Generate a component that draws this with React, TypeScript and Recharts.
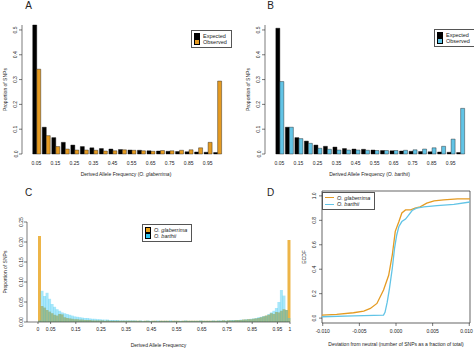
import React from 'react';
import { BarChart, Bar, LineChart, Line, XAxis, YAxis, Legend, Label, ReferenceArea } from 'recharts';

// panels A and B: binned derived allele frequency spectra
const freqBins = ['0.05', '0.10', '0.15', '0.20', '0.25', '0.30', '0.35', '0.40', '0.45', '0.50',
  '0.55', '0.60', '0.65', '0.70', '0.75', '0.80', '0.85', '0.90', '0.95', '1.00'];
const expectedGlab = [0.52, 0.108, 0.066, 0.047, 0.036, 0.030, 0.025, 0.022, 0.020, 0.018,
  0.016, 0.015, 0.013, 0.012, 0.011, 0.010, 0.009, 0.008, 0.007, 0.006];
const observedGlab = [0.342, 0.074, 0.030, 0.020, 0.016, 0.016, 0.015, 0.012, 0.013, 0.017,
  0.015, 0.013, 0.011, 0.014, 0.013, 0.015, 0.017, 0.025, 0.047, 0.294];
const expectedBarthii = [0.507, 0.108, 0.066, 0.052, 0.036, 0.031, 0.028, 0.022, 0.020, 0.019,
  0.016, 0.014, 0.013, 0.012, 0.011, 0.010, 0.009, 0.008, 0.007, 0.006];
const observedBarthii = [0.292, 0.108, 0.062, 0.043, 0.023, 0.019, 0.016, 0.016, 0.016, 0.015,
  0.014, 0.014, 0.014, 0.015, 0.017, 0.020, 0.025, 0.031, 0.060, 0.184];
const propTicks = [0, 0.1, 0.2, 0.3, 0.4, 0.5];

// panel C: fine histogram (bin centres)
const histBins = [
  0.005, 0.015, 0.025, 0.035, 0.045, 0.055, 0.065, 0.075, 0.085, 0.095,
  0.105, 0.115, 0.125, 0.135, 0.145, 0.155, 0.165, 0.175, 0.185, 0.195,
  0.205, 0.215, 0.225, 0.235, 0.245, 0.255, 0.265, 0.275, 0.285, 0.295,
  0.305, 0.315, 0.325, 0.335, 0.345, 0.355, 0.365, 0.375, 0.385, 0.395,
  0.405, 0.415, 0.425, 0.435, 0.445, 0.455, 0.465, 0.475, 0.485, 0.495,
  0.505, 0.515, 0.525, 0.535, 0.545, 0.555, 0.565, 0.575, 0.585, 0.595,
  0.605, 0.615, 0.625, 0.635, 0.645, 0.655, 0.665, 0.675, 0.685, 0.695,
  0.705, 0.715, 0.725, 0.735, 0.745, 0.755, 0.765, 0.775, 0.785, 0.795,
  0.805, 0.815, 0.825, 0.835, 0.845, 0.855, 0.865, 0.875, 0.885, 0.895,
  0.905, 0.915, 0.925, 0.935, 0.945, 0.955, 0.965, 0.975, 0.985, 0.995,
];
const histGlab = [
  0.215, 0.040, 0.036, 0.030, 0.026, 0.022, 0.018, 0.016, 0.020, 0.019,
  0.012, 0.010, 0.009, 0.008, 0.007, 0.007, 0.006, 0.006, 0.005, 0.005,
  0.005, 0.004, 0.004, 0.004, 0.004, 0.004, 0.003, 0.004, 0.003, 0.003,
  0.003, 0.003, 0.003, 0.003, 0.003, 0.003, 0.003, 0.003, 0.003, 0.003,
  0.003, 0.002, 0.003, 0.003, 0.002, 0.003, 0.003, 0.002, 0.003, 0.003,
  0.003, 0.003, 0.002, 0.003, 0.003, 0.003, 0.002, 0.003, 0.003, 0.003,
  0.003, 0.003, 0.003, 0.003, 0.003, 0.003, 0.003, 0.003, 0.003, 0.003,
  0.003, 0.003, 0.003, 0.004, 0.003, 0.004, 0.004, 0.004, 0.005, 0.005,
  0.005, 0.006, 0.006, 0.007, 0.007, 0.008, 0.009, 0.010, 0.012, 0.014,
  0.016, 0.018, 0.022, 0.020, 0.025, 0.024, 0.028, 0.032, 0.030, 0.205,
];
const histBarthii = [
  0.004, 0.078, 0.065, 0.073, 0.058, 0.045, 0.038, 0.032, 0.028, 0.024,
  0.022, 0.020, 0.018, 0.016, 0.014, 0.013, 0.012, 0.011, 0.010, 0.010,
  0.009, 0.008, 0.008, 0.007, 0.007, 0.006, 0.006, 0.006, 0.005, 0.005,
  0.005, 0.005, 0.004, 0.004, 0.004, 0.004, 0.004, 0.004, 0.004, 0.003,
  0.004, 0.003, 0.003, 0.004, 0.003, 0.003, 0.003, 0.004, 0.003, 0.003,
  0.003, 0.003, 0.004, 0.003, 0.003, 0.003, 0.003, 0.003, 0.004, 0.003,
  0.003, 0.003, 0.003, 0.003, 0.004, 0.003, 0.003, 0.003, 0.003, 0.004,
  0.003, 0.004, 0.004, 0.004, 0.004, 0.004, 0.005, 0.005, 0.005, 0.005,
  0.006, 0.006, 0.007, 0.007, 0.008, 0.009, 0.010, 0.012, 0.013, 0.015,
  0.016, 0.020, 0.024, 0.028, 0.035, 0.050, 0.080, 0.066, 0.030, 0.010,
];
const histXTicks = [0, 0.05, 0.15, 0.25, 0.35, 0.45, 0.55, 0.65, 0.75, 0.85, 0.95, 1];
const histYTicks = [0, 0.05, 0.1, 0.15, 0.2, 0.25];

// panel D: ECDF of deviation from neutral
const glabDev = [-0.0101, -0.0081, -0.0058, -0.0044, -0.0035, -0.0026, -0.0017, -0.0010, -0.0005, -0.0001,
  0.0004, 0.0008, 0.0013, 0.0020, 0.0026, 0.0033, 0.0042, 0.0052, 0.0065, 0.0084, 0.0101];
const glabEcdf = [0.025, 0.030, 0.044, 0.057, 0.079, 0.12, 0.23, 0.35, 0.52, 0.71,
  0.79, 0.86, 0.885, 0.885, 0.90, 0.91, 0.94, 0.96, 0.967, 0.975, 0.975];
const barthiiDev = [-0.0101, -0.0058, -0.0017, -0.0015, -0.0012, -0.0009, -0.0005, -0.0002, 0.0001, 0.0004,
  0.0008, 0.0013, 0.0017, 0.0022, 0.0028, 0.0038, 0.0056, 0.0079, 0.0101];
const barthiiEcdf = [0.011, 0.019, 0.025, 0.047, 0.13, 0.24, 0.41, 0.57, 0.68, 0.75,
  0.79, 0.81, 0.84, 0.88, 0.90, 0.91, 0.92, 0.93, 0.95];
const devTicks = [-0.01, -0.005, 0, 0.005, 0.01];
const ecdfTicks = [0, 0.2, 0.4, 0.6, 0.8, 1];
const speciesOrder = ['O. glaberrima', 'O. barthii'];

const glabData = freqBins.map((bin, i) => ({ bin, expected: expectedGlab[i], observed: observedGlab[i] }));
const barthiiData = freqBins.map((bin, i) => ({ bin, expected: expectedBarthii[i], observed: observedBarthii[i] }));
const histData = histBins.map((bin, i) => ({ bin, glab: histGlab[i], barthii: histBarthii[i] }));
const glabLine = glabDev.map((x, i) => ({ x, y: glabEcdf[i] }));
const barthiiLine = barthiiDev.map((x, i) => ({ x, y: barthiiEcdf[i] }));

const FONT = '"Liberation Sans", Arial, sans-serif';
const INK = '#222';
const ORANGE = '#E59B22';
const BLUE = '#62C4E6';
const axisStroke = { stroke: INK, strokeWidth: 0.6 };

type Part = { text: string; italic?: boolean };

const sideTick = (digits: number) => (p: any) => (
  <text x={p.x} y={p.y} transform={`rotate(-90 ${p.x} ${p.y})`} textAnchor="middle" fontSize={5} fill={INK}>
    {Number(p.payload.value).toFixed(digits)}
  </text>
);

// maxX keeps a label that sits on the chart's right edge inside the page
const bottomTick = (off: number, fmt: (v: any) => string, maxX = Infinity) => (p: any) => (
  <text x={Math.min(p.x, maxX)} y={p.y + off} textAnchor="middle" fontSize={5} fill={INK}>
    {fmt(p.payload.value)}
  </text>
);

const xTitle = (parts: Part[], dx: number, dy: number) => (p: any) => {
  const vb = p.viewBox || {};
  return (
    <text x={vb.x + vb.width / 2 + dx} y={vb.y + dy} textAnchor="middle" fontSize={5} fill={INK}>
      {parts.map((t, i) => (
        <tspan key={i} fontStyle={t.italic ? 'italic' : 'normal'}>{t.text}</tspan>
      ))}
    </text>
  );
};

const yTitle = (text: string, x: number) => (p: any) => {
  const vb = p.viewBox || {};
  const cy = vb.y + vb.height / 2;
  return (
    <text x={x} y={cy} transform={`rotate(-90 ${x} ${cy})`} textAnchor="middle" fontSize={5} fill={INK}>
      {text}
    </text>
  );
};

const boxLegend = (kind: 'box' | 'line', italic: boolean, order?: string[]) => (p: any) => {
  const items = [...(p.payload || [])];
  if (order) items.sort((a: any, b: any) => order.indexOf(a.value) - order.indexOf(b.value));
  return (
    <div style={{
      border: '0.8px solid #555', background: '#fff', padding: '1.5px 4px 1.5px 2px',
      fontSize: 5.5, lineHeight: '6.5px', color: INK, whiteSpace: 'nowrap',
      fontStyle: italic ? 'italic' : 'normal', fontFamily: FONT,
    }}>
      {items.map((e: any) => (
        <div key={e.value} style={{ display: 'flex', alignItems: 'center' }}>
          {kind === 'box' ? (
            <span style={{ display: 'inline-block', width: 4, height: 4, background: e.color, border: '0.5px solid #000', marginRight: 3 }} />
          ) : (
            <span style={{ display: 'inline-block', width: 9, height: 1.3, background: e.color, marginRight: 3 }} />
          )}
          <span>{e.value}</span>
        </div>
      ))}
    </div>
  );
};

const SfsPanel = ({ data, color, species, axisW, padLeft, marginRight, titleDx, legendPos }: any) => (
  <BarChart width={237} height={180} data={data} margin={{ top: 25, right: marginRight, bottom: 0, left: 0 }}
    barCategoryGap="12%" barGap={0}>
    <XAxis dataKey="bin" type="category" interval={1} height={26} padding={{ left: padLeft, right: 0 }}
      axisLine={false} tickLine={false} tickSize={0} tickMargin={0}
      tick={bottomTick(11, (v) => String(v))}>
      <Label content={xTitle([{ text: 'Derived Allele Frequency (' }, { text: species, italic: true }, { text: ')' }], titleDx, 21.5)} />
    </XAxis>
    <YAxis type="number" domain={[0, 0.52]} ticks={propTicks} interval={0} width={axisW} axisLine={axisStroke}
      tickLine={axisStroke} tickSize={3} tickMargin={1.5} tick={sideTick(1)}>
      <Label content={yTitle('Proportion of SNPs', axisW - 15.5)} />
    </YAxis>
    <Bar dataKey="expected" name="Expected" fill="#000" stroke="#000" strokeWidth={0.4} isAnimationActive={false} />
    <Bar dataKey="observed" name="Observed" fill={color} stroke="#111" strokeWidth={0.4} isAnimationActive={false} />
    <Legend layout="horizontal" align="center" verticalAlign="middle" content={boxLegend('box', false)}
      wrapperStyle={{ left: legendPos[0], top: legendPos[1], width: 'auto', height: 'auto' }} />
  </BarChart>
);

const HistPanel = () => (
  <BarChart width={300} height={176} data={histData} margin={{ top: 47, right: 10, bottom: 0, left: 0 }}
    barCategoryGap={0} barGap={0}>
    <XAxis xAxisId="g" dataKey="bin" type="number" domain={[0, 1]} ticks={histXTicks} interval={0} height={29}
      padding={{ left: 11, right: 0 }} axisLine={axisStroke} tickLine={axisStroke} tickSize={2} tickMargin={0}
      tick={bottomTick(7, (v) => (v === 0 || v === 1 ? String(v) : Number(v).toFixed(2)))}>
      <Label content={xTitle([{ text: 'Derived Allele Frequency' }], 0, 24.5)} />
    </XAxis>
    <XAxis xAxisId="b" dataKey="bin" type="number" domain={[0, 1]} hide height={0} padding={{ left: 11, right: 0 }} />
    <YAxis type="number" domain={[0, 0.25]} ticks={histYTicks} interval={0} width={27} axisLine={axisStroke}
      tickLine={axisStroke} tickSize={3} tickMargin={1.5} tick={sideTick(2)}>
      <Label content={yTitle('Proportion of SNPs', 7)} />
    </YAxis>
    <Bar xAxisId="g" dataKey="glab" name="O. glaberrima" fill="#E9A21A" fillOpacity={0.8} isAnimationActive={false} />
    <Bar xAxisId="b" dataKey="barthii" name="O. barthii" fill="#30C6F2" fillOpacity={0.42} isAnimationActive={false} />
    <Legend layout="horizontal" align="center" verticalAlign="middle" content={boxLegend('box', true, speciesOrder)}
      wrapperStyle={{ left: 142, top: 49, width: 'auto', height: 'auto' }} />
  </BarChart>
);

const EcdfPanel = () => (
  <LineChart width={237} height={176} margin={{ top: 16, right: 4, bottom: 0, left: 0 }}>
    <XAxis dataKey="x" type="number" domain={[-0.0101, 0.0101]} ticks={devTicks} interval={0} height={28} allowDataOverflow
      axisLine={false} tickLine={axisStroke} tickSize={3} tickMargin={0}
      tick={bottomTick(7, (v) => Number(v).toFixed(3), 229.5)}>
      <Label content={xTitle([{ text: 'Deviation from neutral (number of SNPs as a fraction of total)' }], 0, 22.5)} />
    </XAxis>
    <YAxis type="number" domain={[-0.04, 1.04]} ticks={ecdfTicks} interval={0} width={85} axisLine={false}
      tickLine={axisStroke} tickSize={3} tickMargin={3} tick={sideTick(1)}>
      <Label content={yTitle('ECDF', 69)} />
    </YAxis>
    <ReferenceArea x1={-0.0101} x2={0.0101} y1={-0.04} y2={1.04} fill="none" stroke={INK} strokeWidth={0.7} />
    <Line data={glabLine} dataKey="y" name="O. glaberrima" type="linear" stroke={ORANGE} strokeWidth={1.3}
      dot={false} isAnimationActive={false} />
    <Line data={barthiiLine} dataKey="y" name="O. barthii" type="linear" stroke={BLUE} strokeWidth={1.3}
      dot={false} isAnimationActive={false} />
    <Legend layout="horizontal" align="center" verticalAlign="middle" content={boxLegend('line', true, speciesOrder)}
      wrapperStyle={{ left: 85, top: 17, width: 'auto', height: 'auto' }} />
  </LineChart>
);

export default function App() {
  return (
    <div style={{ position: 'absolute', left: 0, top: 0, width: 474, height: 351, background: '#fff', fontFamily: FONT, overflow: 'hidden' }}>
      <div style={{ position: 'absolute', left: 0, top: 0 }}>
        <SfsPanel data={glabData} color={ORANGE} species="O. glaberrima" axisW={22} padLeft={9.6}
          marginRight={15} titleDx={4} legendPos={[191, 30]} />
      </div>
      <div style={{ position: 'absolute', left: 237, top: 0 }}>
        <SfsPanel data={barthiiData} color={BLUE} species="O. barthii" axisW={28} padLeft={9.7}
          marginRight={9} titleDx={4.5} legendPos={[197, 29]} />
      </div>
      <div style={{ position: 'absolute', left: 0, top: 175 }}>
        <HistPanel />
      </div>
      <div style={{ position: 'absolute', left: 237, top: 175 }}>
        <EcdfPanel />
      </div>
      <svg width={474} height={351} style={{ position: 'absolute', left: 0, top: 0, pointerEvents: 'none' }}>
        <text x={28.7} y={8.8} textAnchor="middle" fontSize={10} fill={INK}>A</text>
        <text x={270.5} y={8.8} textAnchor="middle" fontSize={10} fill={INK}>B</text>
        <text x={28.5} y={195.8} textAnchor="middle" fontSize={10} fill={INK}>C</text>
        <text x={270.5} y={195.8} textAnchor="middle" fontSize={10} fill={INK}>D</text>
      </svg>
    </div>
  );
}
